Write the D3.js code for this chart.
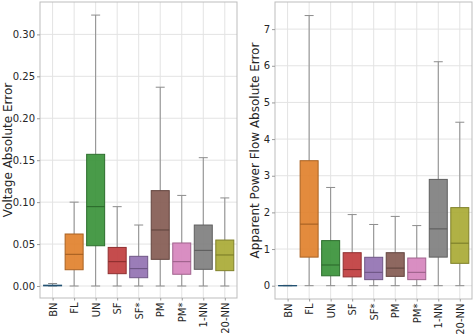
<!DOCTYPE html>
<html>
<head>
<meta charset="utf-8">
<script src="https://cdn.jsdelivr.net/npm/d3@7"></script>
<style>
  html, body { margin: 0; padding: 0; background: #fff; }
  svg { display: block; font-family: "DejaVu Sans", sans-serif; }
</style>
</head>
<body>
<svg id="chart" width="474" height="335"></svg>
<script>
const categories = ["BN", "FL", "UN", "SF", "SF*", "PM", "PM*", "1-NN", "20-NN"];
const colors = ["#3274a1", "#e1812c", "#3a923a", "#c03d3e", "#9372b2", "#845b53", "#d684bd", "#7f7f7f", "#a9aa35"];

// Voltage absolute error: [whiskerLow, q1, median, q3, whiskerHigh]
const voltageStats = [
  [0, 0.0002, 0.0006, 0.0010, 0.003],
  [0, 0.0194, 0.0378, 0.062, 0.100],
  [0, 0.048, 0.0946, 0.157, 0.323],
  [0, 0.0147, 0.029, 0.046, 0.0946],
  [0, 0.0099, 0.0207, 0.0354, 0.0727],
  [0, 0.0318, 0.0668, 0.1137, 0.237],
  [0, 0.014, 0.029, 0.0513, 0.108],
  [0, 0.0199, 0.0425, 0.0727, 0.153],
  [0, 0.0183, 0.037, 0.0548, 0.105]
];
// Apparent power flow absolute error
const powerStats = [
  [0, 0.001, 0.003, 0.005, 0.01],
  [0, 0.78, 1.68, 3.41, 7.37],
  [0, 0.27, 0.565, 1.23, 2.68],
  [0, 0.24, 0.44, 0.90, 1.94],
  [0, 0.165, 0.365, 0.775, 1.67],
  [0, 0.255, 0.48, 0.90, 1.89],
  [0, 0.165, 0.365, 0.755, 1.64],
  [0, 0.78, 1.55, 2.90, 6.11],
  [0, 0.61, 1.16, 2.13, 4.46]
];
const voltageTicks = [0, 0.05, 0.10, 0.15, 0.20, 0.25, 0.30];
const powerTicks = [0, 1, 2, 3, 4, 5, 6, 7];

const svg = d3.select("#chart");

function panel(cfg) {
  const g = svg.append("g");
  const x = d3.scalePoint().domain(categories).range([cfg.x0 + 12.6, cfg.x1 - 12.2]);
  const y = d3.scaleLinear().domain(cfg.ydomain).range([cfg.y1, cfg.y0]);
  const bw = 18;

  // grid
  g.append("g").selectAll("line").data(cfg.ticks).join("line")
    .attr("x1", cfg.x0).attr("x2", cfg.x1)
    .attr("y1", d => y(d)).attr("y2", d => y(d))
    .attr("stroke", "#e3e3e3").attr("stroke-width", 1);
  g.append("g").selectAll("line").data(categories).join("line")
    .attr("x1", d => x(d)).attr("x2", d => x(d))
    .attr("y1", cfg.y0).attr("y2", cfg.y1)
    .attr("stroke", "#e3e3e3").attr("stroke-width", 1);

  // boxes
  const data = cfg.stats.map((s, i) => ({cat: categories[i], s, c: colors[i]}));
  const bg = g.append("g").selectAll("g").data(data).join("g");
  bg.append("line")
    .attr("x1", d => x(d.cat)).attr("x2", d => x(d.cat))
    .attr("y1", d => y(d.s[0])).attr("y2", d => y(d.s[1]))
    .attr("stroke", "#8c8c8c").attr("stroke-width", 1);
  bg.append("line")
    .attr("x1", d => x(d.cat)).attr("x2", d => x(d.cat))
    .attr("y1", d => y(d.s[3])).attr("y2", d => y(d.s[4]))
    .attr("stroke", "#8c8c8c").attr("stroke-width", 1);
  [0, 4].forEach(k => {
    bg.append("line")
      .attr("x1", d => x(d.cat) - bw / 4).attr("x2", d => x(d.cat) + bw / 4)
      .attr("y1", d => y(d.s[k])).attr("y2", d => y(d.s[k]))
      .attr("stroke", "#8c8c8c").attr("stroke-width", 1);
  });
  bg.append("rect")
    .attr("x", d => x(d.cat) - bw / 2).attr("width", bw)
    .attr("y", d => y(d.s[3])).attr("height", d => Math.max(0.3, y(d.s[1]) - y(d.s[3])))
    .attr("fill", d => d.c).attr("fill-opacity", 0.92)
    .attr("stroke", d => d3.color(d.c).darker(0.8)).attr("stroke-width", 1);
  bg.append("line")
    .attr("x1", d => x(d.cat) - bw / 2).attr("x2", d => x(d.cat) + bw / 2)
    .attr("y1", d => y(d.s[2])).attr("y2", d => y(d.s[2]))
    .attr("stroke", d => d3.color(d.c).darker(1.0)).attr("stroke-width", 1);

  // frame
  g.append("rect")
    .attr("x", cfg.x0).attr("y", cfg.y0)
    .attr("width", cfg.x1 - cfg.x0).attr("height", cfg.y1 - cfg.y0)
    .attr("fill", "none").attr("stroke", "#bdbdbd").attr("stroke-width", 1);

  // y axis
  const yAxis = d3.axisLeft(y).tickValues(cfg.ticks).tickFormat(cfg.fmt).tickSize(3).tickPadding(2);
  const ya = g.append("g").attr("transform", `translate(${cfg.x0},0)`).call(yAxis);
  ya.select(".domain").remove();
  ya.selectAll(".tick line").attr("stroke", "#9a9a9a");
  ya.selectAll(".tick text").attr("fill", "#262626").attr("font-size", 10)
    .attr("font-family", "DejaVu Sans, sans-serif");

  // x axis
  const xAxis = d3.axisBottom(x).tickSize(2.5).tickPadding(2);
  const xa = g.append("g").attr("transform", `translate(0,${cfg.y1})`).call(xAxis);
  xa.select(".domain").remove();
  xa.selectAll(".tick line").attr("stroke", "#9a9a9a");
  xa.selectAll(".tick text")
    .attr("fill", "#262626").attr("font-size", 10)
    .attr("font-family", "DejaVu Sans, sans-serif")
    .attr("text-anchor", "end")
    .attr("dy", null)
    .attr("y", 0)
    .attr("x", 0)
    .attr("transform", "translate(0,4.5) rotate(-90)")
    .attr("dominant-baseline", "central");

  // y label
  g.append("text")
    .attr("transform", `translate(${cfg.labelX},${(cfg.y0 + cfg.y1) / 2}) rotate(-90)`)
    .attr("text-anchor", "middle")
    .attr("dominant-baseline", "central")
    .attr("font-size", 12)
    .attr("fill", "#262626")
    .text(cfg.label);
}

panel({
  x0: 40, x1: 237, y0: 2, y1: 298,
  ydomain: [-0.0143, 0.3386],
  stats: voltageStats, ticks: voltageTicks, fmt: d3.format(".2f"),
  label: "Voltage Absolute Error", labelX: 8
});
panel({
  x0: 275, x1: 472, y0: 2, y1: 299,
  ydomain: [-0.363, 7.74],
  stats: powerStats, ticks: powerTicks, fmt: d3.format("d"),
  label: "Apparent Power Flow Absolute Error", labelX: 255
});
</script>
</body>
</html>
